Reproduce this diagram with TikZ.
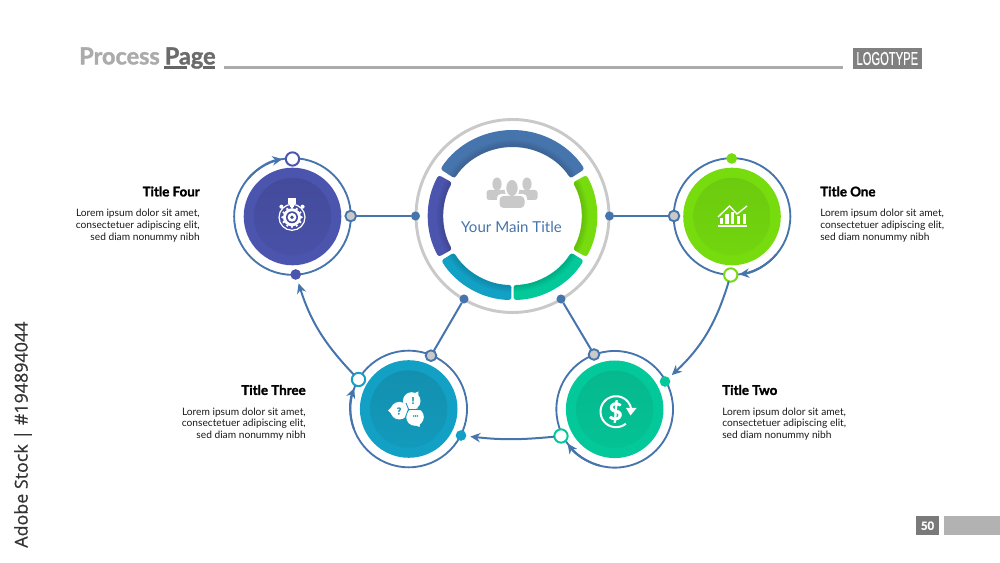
\documentclass[tikz,border=0pt]{standalone}
\usepackage{fontspec}
\setmainfont{Lato}[BoldFeatures={FakeBold=1.6}]
\newfontfamily\stockfont{Open Sans}[FakeBold=0.5]
\newfontfamily\logofont{Liberation Sans}[FakeBold=0.6]
\usetikzlibrary{arrows.meta,calc}
\definecolor{lineblue}{HTML}{4674AC}
\definecolor{hubgrey}{HTML}{C9C9C9}
\definecolor{purpleA}{HTML}{4B55AE}
\definecolor{purpleB}{HTML}{444B9C}
\definecolor{greenA}{HTML}{76DC0E}
\definecolor{greenB}{HTML}{6CCB0E}
\definecolor{cyanA}{HTML}{12A0C4}
\definecolor{cyanB}{HTML}{1390AF}
\definecolor{tealA}{HTML}{03C99A}
\definecolor{tealB}{HTML}{06B88E}
\tikzset{
    x=0.75pt, y=0.75pt,
    link/.style={draw=lineblue, line width=1.5pt},
    tipped/.style={link, -{Stealth[length=7.5pt,width=7pt]}},
    ringline/.style={circle, draw=lineblue, line width=1.4pt, inner sep=0, outer sep=0, minimum size=87.5pt},
    bigdisc/.style={circle, inner sep=0, outer sep=0, minimum size=73.2pt},
    coredisc/.style={circle, inner sep=0, outer sep=0, minimum size=58pt},
    hubdot/.style={circle, fill=lineblue, inner sep=0, outer sep=0, minimum size=6.8pt},
    greydot/.style={circle, fill=hubgrey, draw=lineblue, line width=1.4pt, inner sep=0, outer sep=0, minimum size=8pt},
    solidot/.style={circle, fill=#1, inner sep=0, outer sep=0, minimum size=8pt},
    opendot/.style={circle, fill=white, draw=#1, line width=1.5pt, inner sep=0, outer sep=0, minimum size=10pt},
    headtext/.style={inner sep=0, font=\fontsize{10}{11}\selectfont\bfseries, text=black},
    bodytext/.style={inner sep=0, font=\fontsize{7.65}{8.8}\selectfont, text=black!90},
}
\newcommand{\hubseg}[4]{
    \begin{scope}
        \path[clip, rounded corners=2pt] (#1:#4) arc[start angle=#1, end angle=#2, radius=#4]
            -- (#2:69) arc[start angle=#2, end angle=#1, radius=69] -- cycle;
        \fill[#3] (-100,-100) rectangle (100,100);
        \foreach \rr in {4,7,10} {
            \draw[black, opacity=0.04, line width=\rr pt] (#1+2:69) arc[start angle=#1+2, end angle=#2-2, radius=69];
        }
    \end{scope}
}
\begin{document}
\begin{tikzpicture}
    \useasboundingbox (0,0) rectangle (1000,563);
    % header
    \node[anchor=west, inner sep=0, font=\fontsize{17.6}{20}\selectfont\bfseries, text=black!33] (headA) at (79,507) {Process};
    \node[anchor=base west, inner sep=0, font=\fontsize{17.6}{20}\selectfont\bfseries, text=black!58] (headB) at ([xshift=3.4pt]headA.base east) {Page};
    \coordinate (ruleA) at (224,495.5);
    \coordinate (ruleB) at (843,495.5);
    \draw[black!33, line width=2pt] (ruleA) -- (ruleB);
    \draw[black!60, line width=2pt] (164,495.5) -- (186.7,495.5) (202.7,495.5) -- (215,495.5);
    \node[fill=black!50, text=white, inner sep=0, minimum width=51.4pt, minimum height=15.8pt] (logo) at (887.3,504.5)
        {\logofont\fontsize{14}{15}\selectfont\scalebox{0.6}[1]{LOGOTYPE}};
    % page number
    \node[fill=black!52, text=white, inner sep=0, minimum width=17.2pt, minimum height=14.6pt, font=\fontsize{8.5}{10}\selectfont\bfseries] (pagenum) at (927.5,37.3) {50};
    \fill[black!30] (944,27.5) rectangle (1000,47);
    \node[rotate=90, anchor=west, inner sep=0, text=black!80, font=\stockfont\fontsize{13.4}{15}\selectfont] (stock) at (23,15) {Adobe Stock | \#194894044};

    % hub
    \coordinate (hub) at (512.5,347);
    \node[circle, draw=hubgrey, line width=2.2pt, inner sep=0, outer sep=0, minimum size=144.75pt] (hubring) at (hub) {};
    \begin{scope}[shift={(hub)}]
        \hubseg{147}{33}{lineblue}{86}
        \hubseg{29}{-29}{greenA}{84.5}
        \hubseg{-32}{-89.2}{tealA}{84}
        \hubseg{-90.8}{-148}{cyanA}{84}
        \hubseg{-151}{-209}{purpleA}{84.5}
    \end{scope}
    \node[inner sep=0, text=lineblue, font=\fontsize{11.3}{13}\selectfont] (hubtitle) at (511.5,336) {Your Main Title};
    % people
    \foreach \dx in {-15,15} {
        \fill[hubgrey] ($(512,372)+(\dx,7)$) ellipse (4.6 and 6.5);
        \fill[hubgrey, rounded corners=2pt] ($(512,363)+(\dx-10.5,0)$) rectangle ($(512,373)+(\dx+10.5,0)$);
    }
    \fill[white] (512,375) ellipse (7.5 and 10.5);
    \fill[white, rounded corners=3pt] (497,353) rectangle (527,369);
    \fill[hubgrey] (512,375) ellipse (5.7 and 8);
    \fill[hubgrey, rounded corners=3pt] (499.5,355) rectangle (524.5,367);

    % satellite circles
    \foreach \name/\px/\py/\colA/\colB in {One/732/346.5/greenA/greenB, Two/614.7/153.7/tealA/tealB, Three/408.7/154/cyanA/cyanB, Four/292.5/346.5/purpleA/purpleB} {
        \node[ringline] (ring\name) at (\px,\py) {};
        \node[bigdisc, fill=\colA] (disc\name) at (\px,\py) {};
        \node[coredisc, top color=\colB, bottom color=\colA!60!\colB] (core\name) at (\px,\py) {};
    }
    % arrows on the rings
    \draw[tipped] (ringOne.-40) arc[start angle=-40, end angle=-83, radius=58.3];
    \draw[tipped] (ringTwo.255) arc[start angle=255, end angle=216, radius=58.3];
    \draw[tipped] (ringThree.200) arc[start angle=200, end angle=159, radius=58.3];
    \draw[tipped] (ringFour.140) arc[start angle=140, end angle=100, radius=58.3];

    % markers
    \node[hubdot] (hubW) at (415.5,347) {};
    \node[hubdot] (hubE) at (609.5,347) {};
    \node[hubdot] (hubSW) at (464,264) {};
    \node[hubdot] (hubSE) at (561,264) {};
    \node[greydot] (greyFour) at (350.7,347) {};
    \node[greydot] (greyOne) at (674,347) {};
    \node[greydot] (greyThree) at (431,207.3) {};
    \node[greydot] (greyTwo) at (594,208.5) {};
    \node[solidot=greenA] (topOne) at (731.7,404.5) {};
    \node[solidot=purpleA] (dotFour) at (295.7,288.5) {};
    \node[solidot=cyanA] (dotThree) at (461,127.5) {};
    \node[solidot=tealA] (dotTwo) at (665,181.5) {};
    \node[opendot=purpleA] (openFour) at (292.5,404) {};
    \node[opendot=greenA] (openOne) at (730.7,288) {};
    \node[opendot=cyanA] (openThree) at (358.5,183.5) {};
    \node[opendot=tealA] (openTwo) at (561,127) {};

    % connectors
    \draw[link] (greyFour) -- (hubW);
    \draw[link] (hubE) -- (greyOne);
    \draw[link] (hubSW) -- (greyThree);
    \draw[link] (hubSE) -- (greyTwo);
    \draw[tipped, shorten >=3pt] (openOne) to[bend left=15] (dotTwo);
    \draw[tipped, shorten >=3pt] (openTwo) to[bend left=6] (dotThree);
    \draw[tipped, shorten >=3pt] (openThree) to[bend left=13] (dotFour);

    % chart icon
    \draw[white, line width=0.9pt] (717.7,337) -- (746.7,337);
    \draw[white, line width=1pt] (718,346) -- (729.5,357) -- (737,349) -- (747,357);
    \foreach \bx/\by in {719.5/344.5, 725.2/349, 731/351, 736.8/346.5, 742.6/349} {
        \fill[white] (\bx,339) rectangle (\bx+3.4,\by);
    }
    % dollar icon
    \draw[white, line width=1.5pt] (616,151.3) ++(-51:15.5) arc[start angle=-51, end angle=-352, radius=15.5];
    \fill[white] (626,155) -- (636.5,155) -- (630.5,147.5) -- cycle;
    \node[inner sep=0, text=white, font=\fontsize{18}{20}\selectfont\bfseries] (dollarsign) at (615.5,151.5) {\$};
    % bubbles icon
    \fill[white] (411.7,162) circle (8.8);
    \fill[white] (408,167) -- (418.5,171.5) -- (418,159) -- cycle;
    \fill[white] (399.3,152.3) circle (8.8);
    \fill[white] (396,160) -- (388,152.5) -- (396,145) -- cycle;
    \fill[white] (415,146) circle (8.8);
    \fill[white] (421.5,150) -- (419.5,136) -- (410,140) -- cycle;
    \draw[cyanB, line width=0.6pt] (406,160) -- (408.5,154) -- (405.5,146);
    \draw[cyanB, line width=0.6pt] (408.5,154) -- (423,154);
    \node[inner sep=0, text=cyanB, font=\fontsize{7}{8}\selectfont\bfseries] (bubA) at (413,162.5) {!};
    \node[inner sep=0, text=cyanB, font=\fontsize{7}{8}\selectfont\bfseries] (bubB) at (399,152) {?};
    \node[inner sep=0, text=cyanB, font=\fontsize{6}{7}\selectfont\bfseries] (bubC) at (415.5,147) {...};
    % stopwatch icon
    \coordinate (watch) at (292,345.7);
    \draw[white, line width=0.9pt] (watch) circle (13);
    \fill[white] (288,359) rectangle (296,364.5);
    \fill[white] (290.3,356) rectangle (293.7,360);
    \foreach \a in {45,135} {
        \fill[white] ($(watch)+(\a:15)$) circle (2);
    }
    \foreach \a in {0,30,...,330} {
        \fill[white] ($(watch)+(\a:9.6)$) circle (1.3);
    }
    \fill[white] (watch) circle (9);
    \fill[purpleB] (watch) circle (6);
    \fill[white] (watch) circle (4.4);
    \fill[purpleB] (watch) circle (1.8);

    % labels
    \node[headtext, anchor=west] (titleOne) at (820,371.5) {Title One};
    \node[bodytext, anchor=west, align=left] (textOne) at (820,337.5) {Lorem ipsum dolor sit amet,\\consectetuer adipiscing elit,\\sed diam nonummy nibh};
    \node[headtext, anchor=west] (titleTwo) at (722,173) {Title Two};
    \node[bodytext, anchor=west, align=left] (textTwo) at (722,139) {Lorem ipsum dolor sit amet,\\consectetuer adipiscing elit,\\sed diam nonummy nibh};
    \node[headtext, anchor=east] (titleThree) at (306,173) {Title Three};
    \node[bodytext, anchor=east, align=right] (textThree) at (306,139) {Lorem ipsum dolor sit amet,\\consectetuer adipiscing elit,\\sed diam nonummy nibh};
    \node[headtext, anchor=east] (titleFour) at (200,371.5) {Title Four};
    \node[bodytext, anchor=east, align=right] (textFour) at (200,337.5) {Lorem ipsum dolor sit amet,\\consectetuer adipiscing elit,\\sed diam nonummy nibh};
\end{tikzpicture}
\end{document}
